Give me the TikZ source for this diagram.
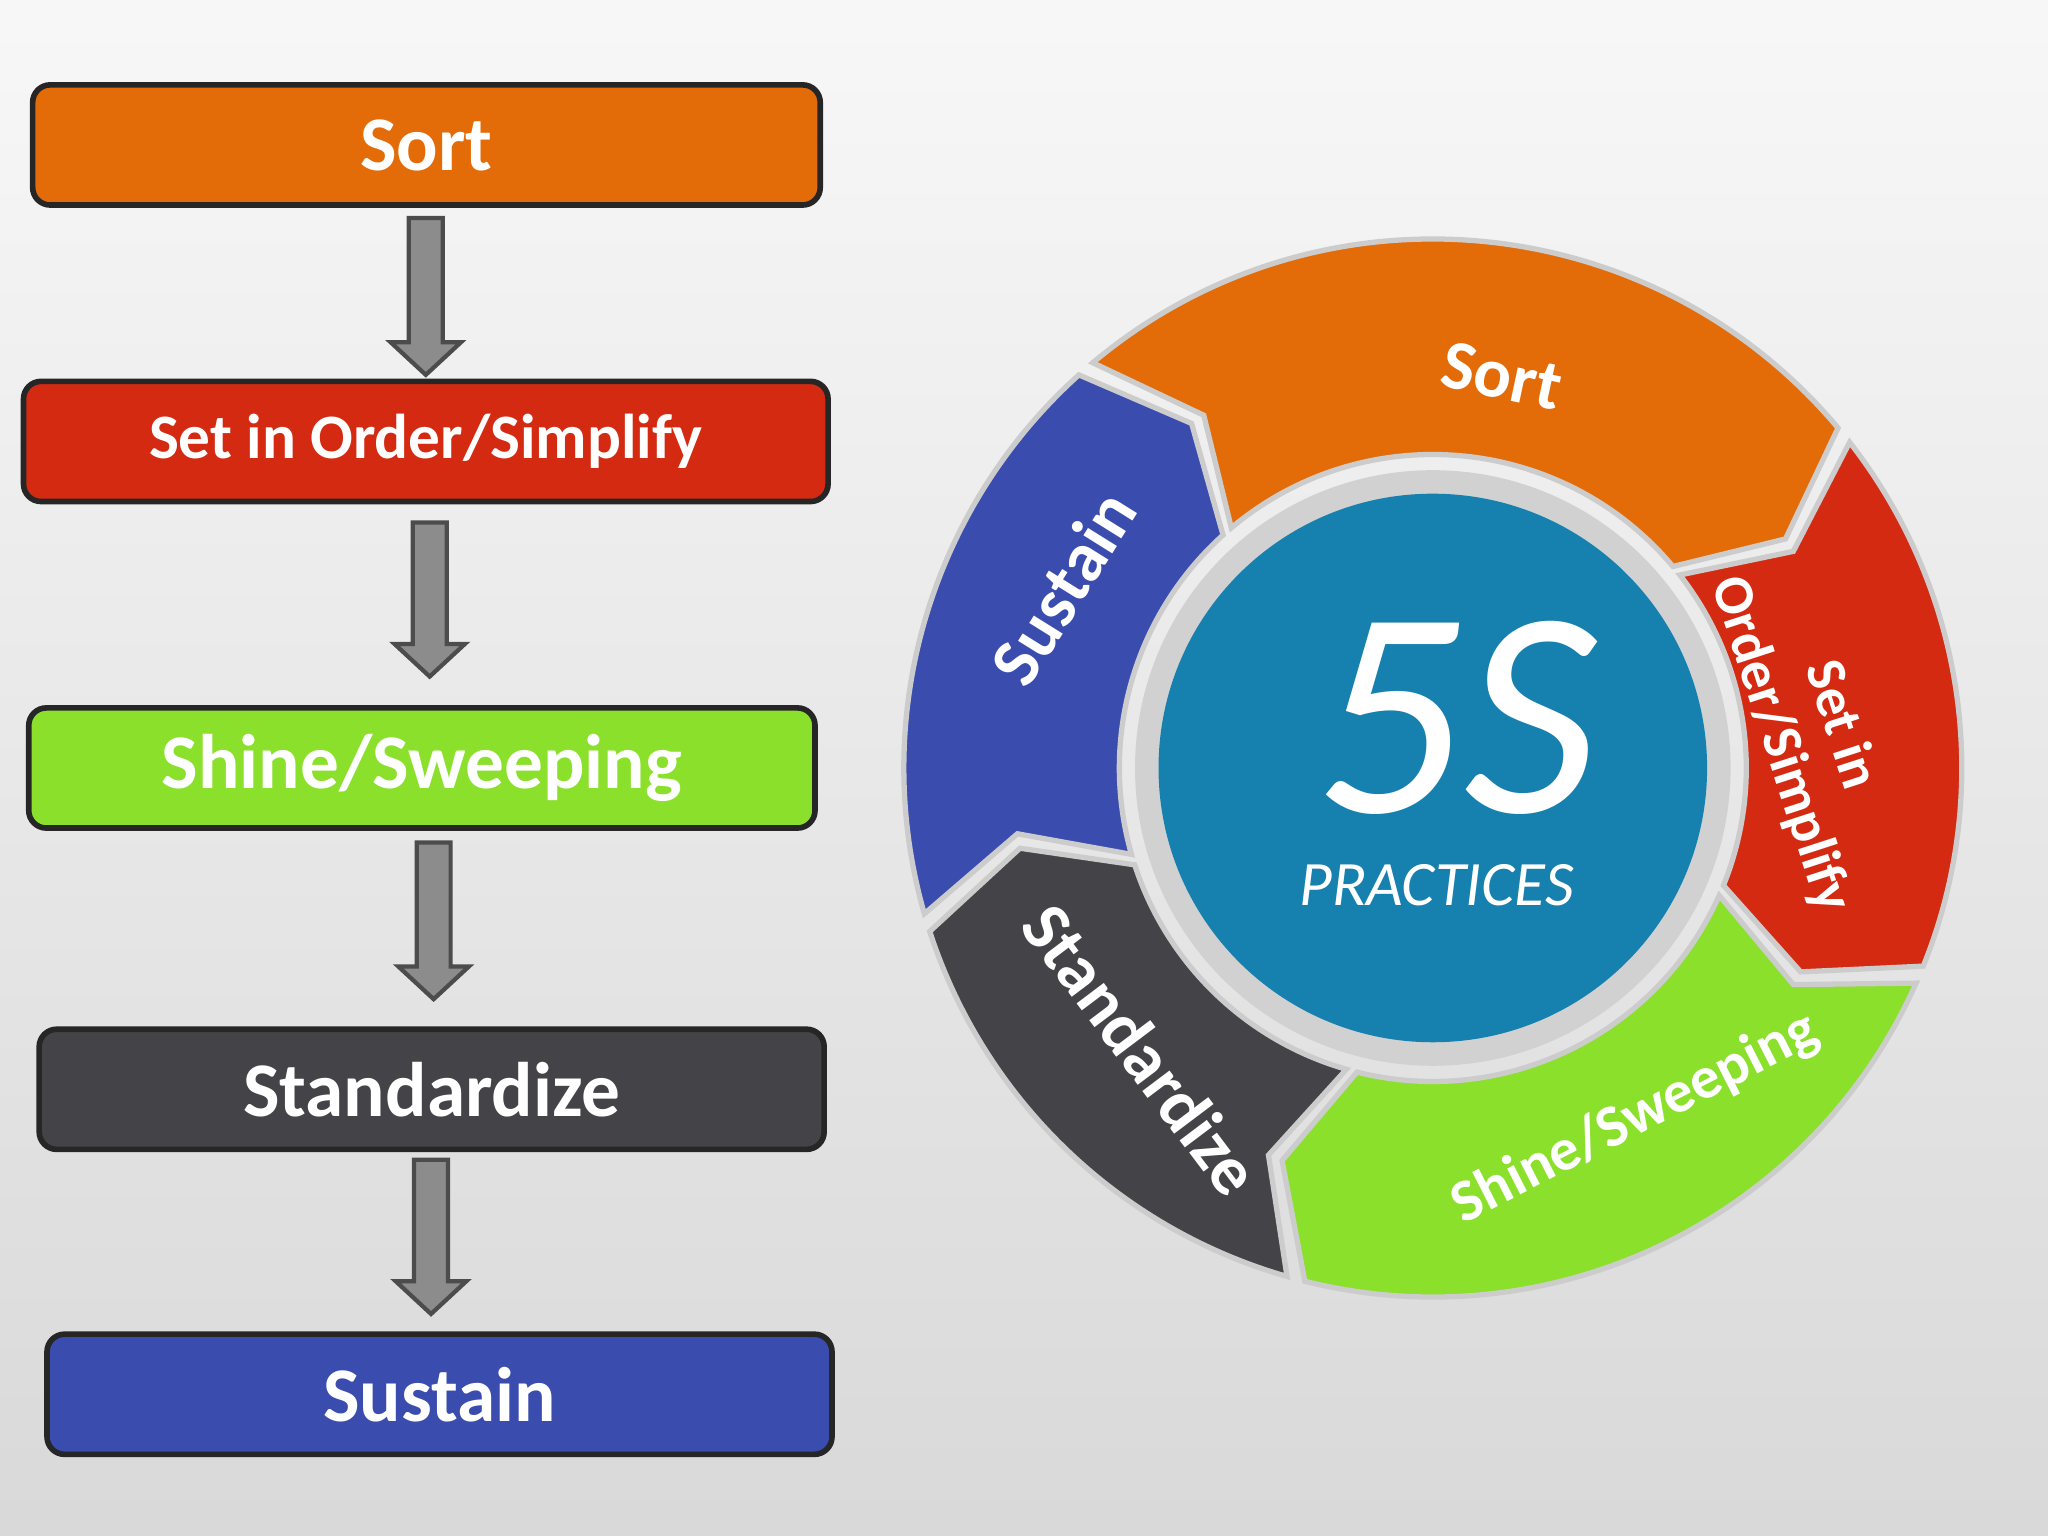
\documentclass[tikz,border=0pt]{standalone}
\usepackage{fontspec}
\setmainfont{Carlito}
\usetikzlibrary{calc}
\definecolor{cOr}{HTML}{E36C09}
\definecolor{cRd}{HTML}{D42A12}
\definecolor{cGn}{HTML}{8AE02A}
\definecolor{cDk}{HTML}{444448}
\definecolor{cBl}{HTML}{3A4DAE}
\definecolor{cTl}{HTML}{1680AE}
\tikzset{
 lbox/.style={draw=black!85,line width=1.6pt,rounded corners=5pt,minimum height=92*0.01306cm,text=white,font=\bfseries\fontsize{22}{24}\selectfont,inner sep=0pt},
 garrow/.style={fill=black!45,draw=black!70,line width=1.2pt},
 seg/.style={draw=white!80!black,line width=1.5pt},
 rtext/.style={text=white,font=\bfseries\fontsize{20}{22}\selectfont,align=center}
}
\newcommand{\blockarr}[3]{% x, ytop, ybot
 \draw[garrow] (#1-13,#2) -- (#1+13,#2) -- (#1+13,#3+25) -- (#1+27,#3+25) -- (#1,#3) -- (#1-27,#3+25) -- (#1-13,#3+25) -- cycle;}
\newcommand{\ringseg}[3]{% a, b, color
 \fill[#3] ($(C)+(#1:405)$) arc[start angle=#1,end angle=#2,radius=405]
  -- ($(C)+(#2-7:322)$) -- ($(C)+(#2:240)$) arc[start angle=#2,end angle=#1,radius=240]
  -- ($(C)+(#1-7:322)$) -- cycle;
 \draw[seg] ($(C)+(#1:405)$) arc[start angle=#1,end angle=#2,radius=405]
  -- ($(C)+(#2-7:322)$) -- ($(C)+(#2:240)$) arc[start angle=#2,end angle=#1,radius=240]
  -- ($(C)+(#1-7:322)$) -- cycle;}
\begin{document}
\begin{tikzpicture}[x=0.01306cm,y=0.01306cm]
\shade[top color=white!97!black,bottom color=black!15] (0,0) rectangle (1568,1176);
\useasboundingbox (0,0) rectangle (1568,1176);
\node[lbox,fill=cOr,minimum width=603*0.01306cm] (b1) at (326.5,1065) {Sort};
\node[lbox,fill=cRd,minimum width=616*0.01306cm,font=\bfseries\fontsize{18}{20}\selectfont] (b2) at (326,838) {Set in Order/Simplify};
\node[lbox,fill=cGn,minimum width=602*0.01306cm] (b3) at (323,588) {Shine/Sweeping};
\node[lbox,fill=cDk,minimum width=601*0.01306cm] (b4) at (330.5,342) {Standardize};
\node[lbox,fill=cBl,minimum width=601*0.01306cm] (b5) at (336.5,108.5) {Sustain};
\blockarr{326}{1009}{889}
\blockarr{329}{776}{658}
\blockarr{332}{531}{411}
\blockarr{330}{288}{170}
\coordinate (C) at (1097,588);
\ringseg{130}{40}{cOr}
\ringseg{38}{-22}{cRd}
\ringseg{-24}{-104}{cGn}
\ringseg{-106}{-162}{cDk}
\ringseg{196}{132}{cBl}
\fill[black!18] (C) circle (228);
\fill[cTl] (C) circle (210);
\node[text=white,font=\itshape\fontsize{84}{84}\selectfont] (fs) at (1115,626) {5S};
\node[text=white,font=\itshape\fontsize{18}{20}\selectfont] (pr) at (1100,498) {PRACTICES};
\node[rtext,rotate=-12] (t1) at ($(C)+(80:305)$) {Sort};
\node[rtext,rotate=-72,font=\bfseries\fontsize{16}{18}\selectfont] (t2) at ($(C)+(5:290)$) {Set in\\Order/Simplify};
\node[rtext,rotate=27,font=\bfseries\fontsize{17}{19}\selectfont] (t3) at ($(C)+(-60:310)$) {Shine/Sweeping};
\node[rtext,rotate=-53] (t4) at ($(C)+(-136:310)$) {Standardize};
\node[rtext,rotate=58] (t5) at ($(C)+(154:315)$) {Sustain};
\end{tikzpicture}
\end{document}
